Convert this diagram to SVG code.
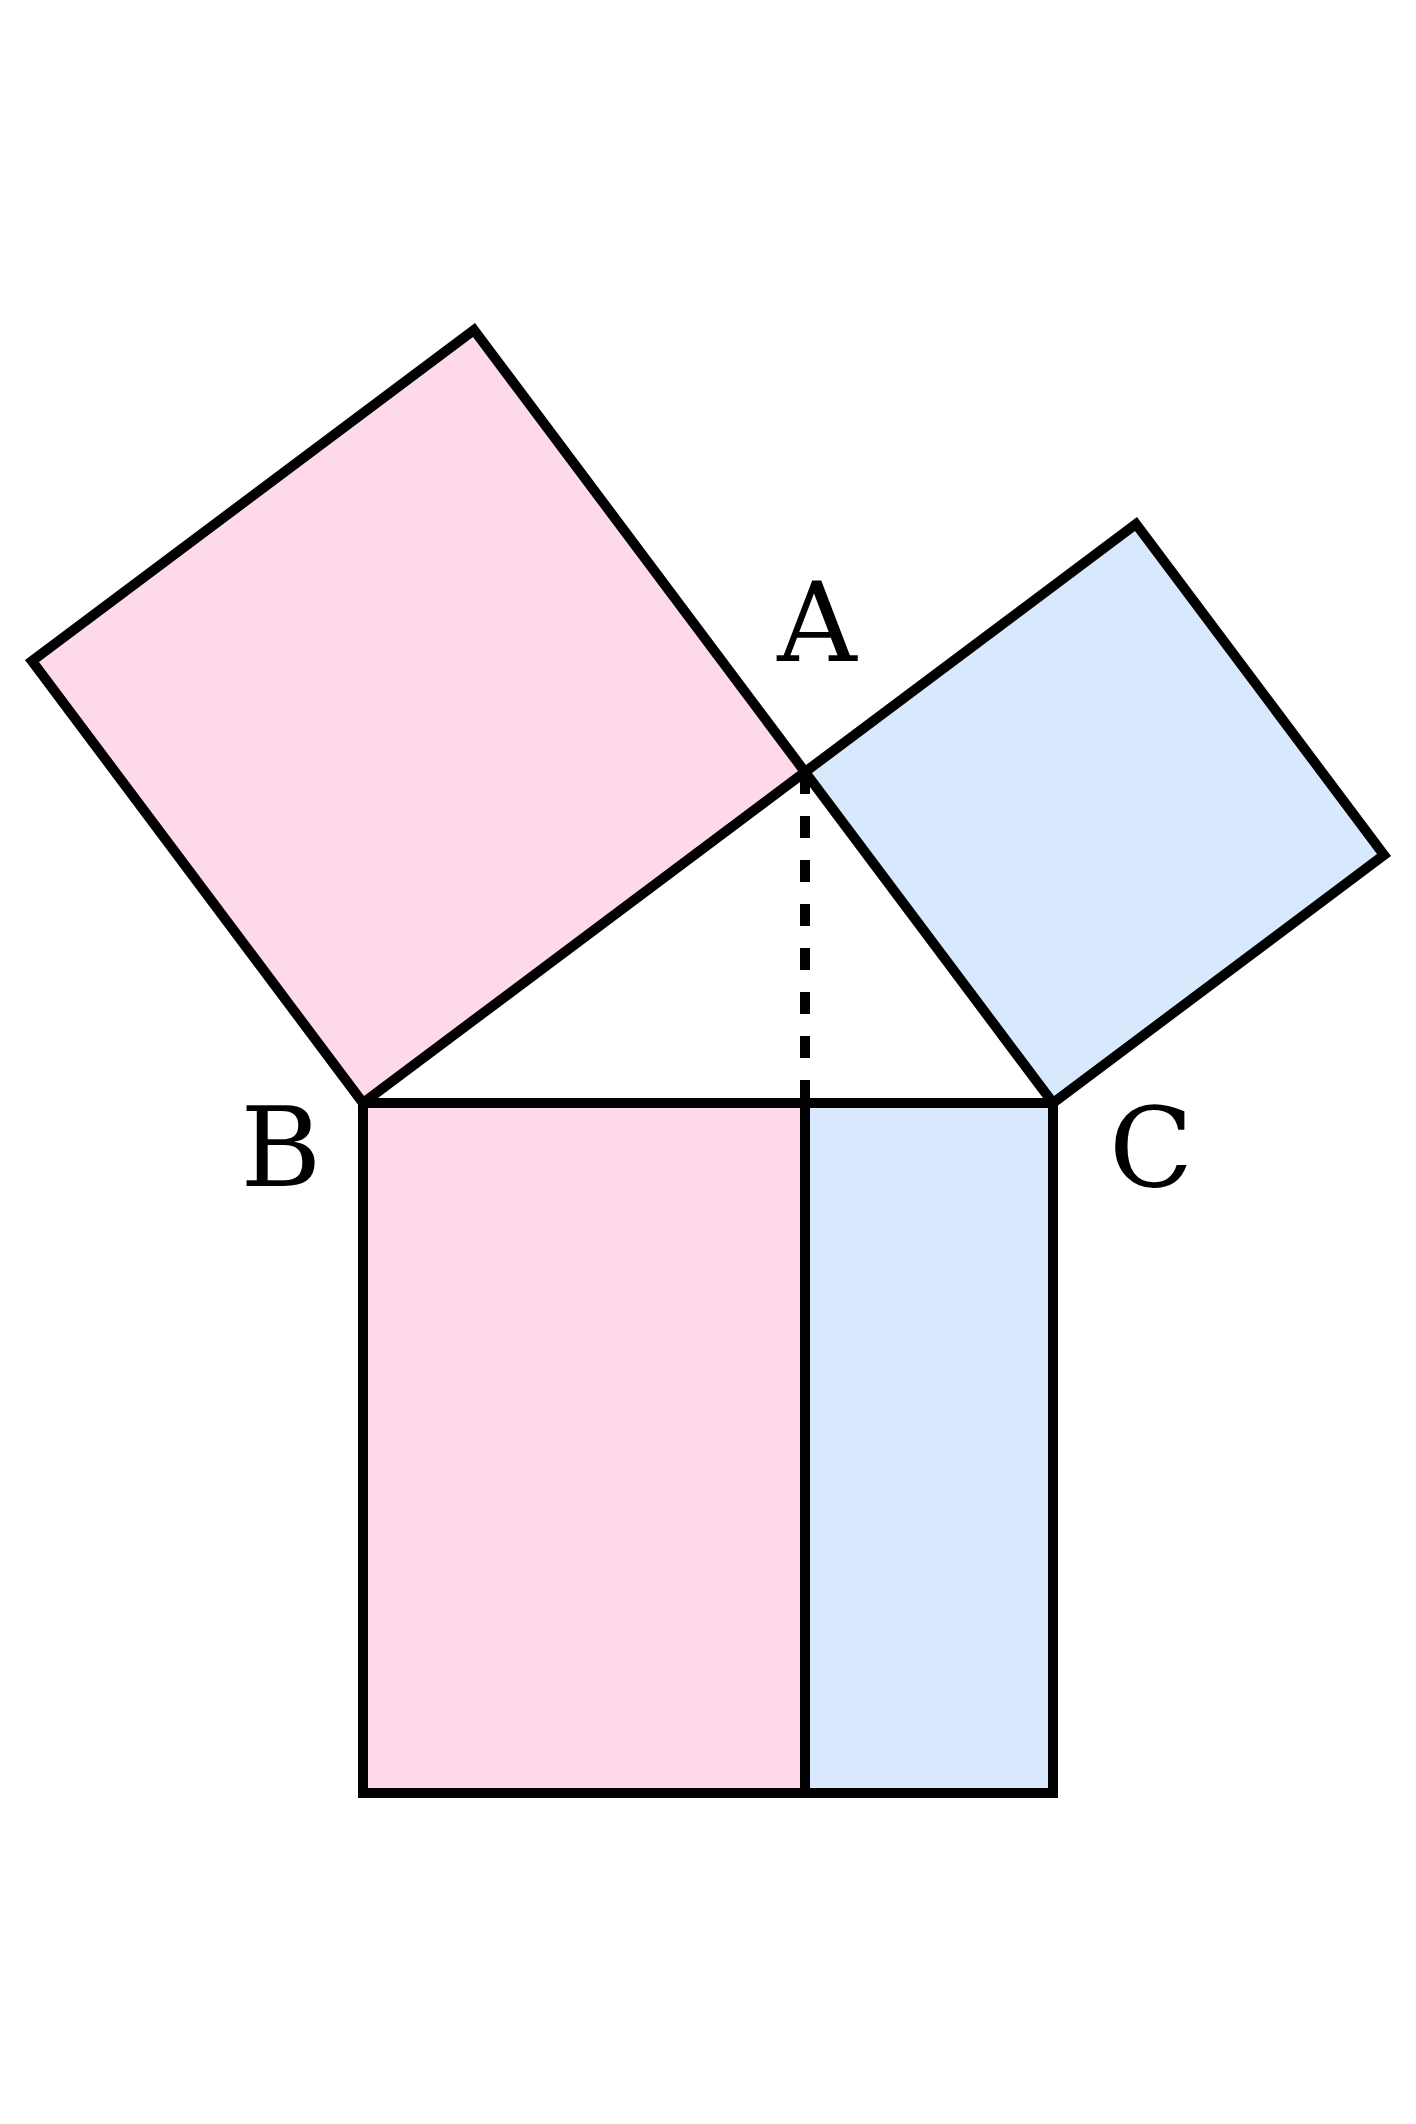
<svg xmlns="http://www.w3.org/2000/svg" width="1416" height="2124" viewBox="0 0 1416 2124">
<style>
.pink{fill:#fdd9eb}
.blue{fill:#d9e9fd}
.edge{stroke:#000;stroke-width:10;stroke-linejoin:miter;stroke-miterlimit:10}
.lbl{font-family:"DejaVu Serif","Liberation Serif",serif;font-size:110px;fill:#000;text-anchor:middle}
</style>
<rect width="1416" height="2124" fill="#fff"/>
<g id="square-ab">
<polygon class="pink edge" points="805,772 363,1103 32,661 474,330"/>
</g>
<g id="square-ac">
<polygon class="blue edge" points="805,772 1053,1103 1384,855 1136,524"/>
</g>
<g id="square-bc">
<rect class="pink" x="363" y="1103" width="442" height="690"/>
<rect class="blue" x="805" y="1103" width="248" height="690"/>
<rect class="edge" x="363" y="1103" width="690" height="690" fill="none"/>
</g>
<g id="connectors">
<line class="edge" x1="805" y1="772" x2="805" y2="1103" stroke-dasharray="22 22" fill="none"/>
<line class="edge" x1="805" y1="1103" x2="805" y2="1793" fill="none"/>
</g>
<g id="label-a"><text class="lbl" x="817" y="661">A</text></g>
<g id="label-b"><text class="lbl" x="281" y="1186">B</text></g>
<g id="label-c"><text class="lbl" x="1151" y="1186">C</text></g>
</svg>
